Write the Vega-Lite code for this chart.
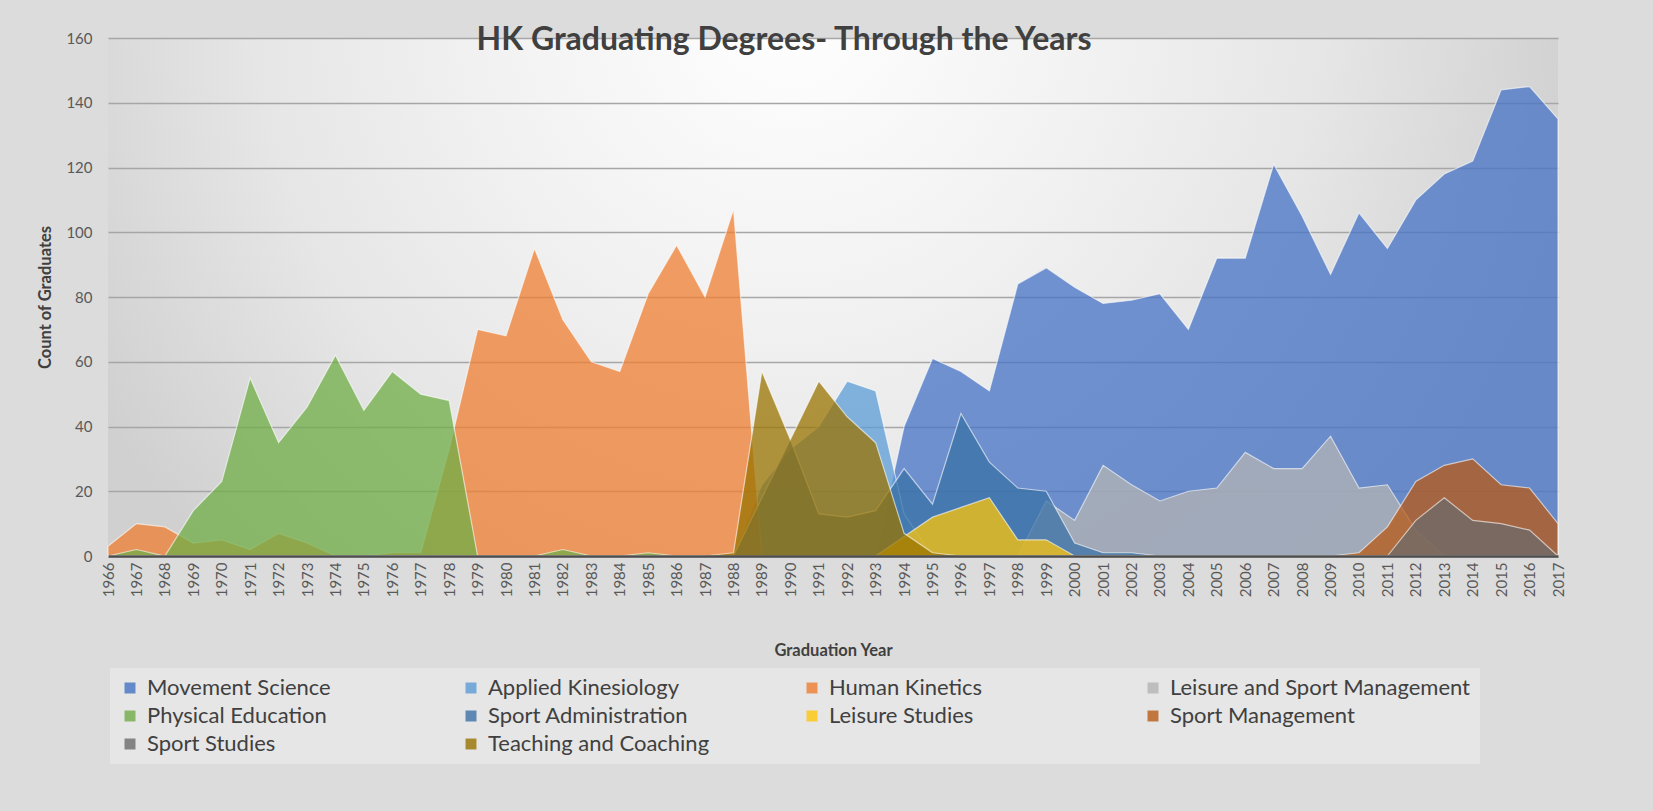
{
  "$schema": "https://vega.github.io/schema/vega-lite/v6.json",
  "width": 1450,
  "height": 518,
  "autosize": {"type": "none"},
  "padding": {"left": 108, "top": 38, "right": 95, "bottom": 255},
  "background": "#DCDCDC",
  "title": {
    "text": "HK Graduating Degrees- Through the Years",
    "font": "Lato",
    "fontSize": 32,
    "fontWeight": "bold",
    "color": "#404040",
    "anchor": "middle",
    "frame": "group",
    "baseline": "alphabetic",
    "offset": 0,
    "dx": -49,
    "dy": 51
  },
  "config": {
    "font": "Lato",
    "view": {
      "stroke": null,
      "fill": {
        "gradient": "radial",
        "x1": 0.47, "y1": 0.3, "r1": 0,
        "x2": 0.47, "y2": 0.3, "r2": 0.55,
        "stops": [
          {"offset": 0, "color": "#FFFFFF"},
          {"offset": 0.4, "color": "#F1F1F1"},
          {"offset": 0.67, "color": "#E6E6E6"},
          {"offset": 0.85, "color": "#DADADA"},
          {"offset": 1, "color": "#D0D0D0"}
        ]
      }
    }
  },
  "data": {
    "values": [
      {"year":1966,"degree":"Movement Science","count":0},{"year":1967,"degree":"Movement Science","count":0},{"year":1968,"degree":"Movement Science","count":0},{"year":1969,"degree":"Movement Science","count":0},{"year":1970,"degree":"Movement Science","count":0},{"year":1971,"degree":"Movement Science","count":0},{"year":1972,"degree":"Movement Science","count":0},{"year":1973,"degree":"Movement Science","count":0},{"year":1974,"degree":"Movement Science","count":0},{"year":1975,"degree":"Movement Science","count":0},{"year":1976,"degree":"Movement Science","count":0},{"year":1977,"degree":"Movement Science","count":0},{"year":1978,"degree":"Movement Science","count":0},{"year":1979,"degree":"Movement Science","count":0},{"year":1980,"degree":"Movement Science","count":0},{"year":1981,"degree":"Movement Science","count":0},{"year":1982,"degree":"Movement Science","count":0},{"year":1983,"degree":"Movement Science","count":0},{"year":1984,"degree":"Movement Science","count":0},{"year":1985,"degree":"Movement Science","count":0},{"year":1986,"degree":"Movement Science","count":0},{"year":1987,"degree":"Movement Science","count":0},{"year":1988,"degree":"Movement Science","count":0},{"year":1989,"degree":"Movement Science","count":0},{"year":1990,"degree":"Movement Science","count":0},{"year":1991,"degree":"Movement Science","count":0},{"year":1992,"degree":"Movement Science","count":0},{"year":1993,"degree":"Movement Science","count":0},{"year":1994,"degree":"Movement Science","count":40},{"year":1995,"degree":"Movement Science","count":61},{"year":1996,"degree":"Movement Science","count":57},{"year":1997,"degree":"Movement Science","count":51},{"year":1998,"degree":"Movement Science","count":84},{"year":1999,"degree":"Movement Science","count":89},{"year":2000,"degree":"Movement Science","count":83},{"year":2001,"degree":"Movement Science","count":78},{"year":2002,"degree":"Movement Science","count":79},{"year":2003,"degree":"Movement Science","count":81},{"year":2004,"degree":"Movement Science","count":70},{"year":2005,"degree":"Movement Science","count":92},{"year":2006,"degree":"Movement Science","count":92},{"year":2007,"degree":"Movement Science","count":121},{"year":2008,"degree":"Movement Science","count":105},{"year":2009,"degree":"Movement Science","count":87},{"year":2010,"degree":"Movement Science","count":106},{"year":2011,"degree":"Movement Science","count":95},{"year":2012,"degree":"Movement Science","count":110},{"year":2013,"degree":"Movement Science","count":118},{"year":2014,"degree":"Movement Science","count":122},{"year":2015,"degree":"Movement Science","count":144},{"year":2016,"degree":"Movement Science","count":145},{"year":2017,"degree":"Movement Science","count":135},
      {"year":1966,"degree":"Applied Kinesiology","count":0},{"year":1967,"degree":"Applied Kinesiology","count":0},{"year":1968,"degree":"Applied Kinesiology","count":0},{"year":1969,"degree":"Applied Kinesiology","count":0},{"year":1970,"degree":"Applied Kinesiology","count":0},{"year":1971,"degree":"Applied Kinesiology","count":0},{"year":1972,"degree":"Applied Kinesiology","count":0},{"year":1973,"degree":"Applied Kinesiology","count":0},{"year":1974,"degree":"Applied Kinesiology","count":0},{"year":1975,"degree":"Applied Kinesiology","count":0},{"year":1976,"degree":"Applied Kinesiology","count":0},{"year":1977,"degree":"Applied Kinesiology","count":0},{"year":1978,"degree":"Applied Kinesiology","count":0},{"year":1979,"degree":"Applied Kinesiology","count":0},{"year":1980,"degree":"Applied Kinesiology","count":0},{"year":1981,"degree":"Applied Kinesiology","count":0},{"year":1982,"degree":"Applied Kinesiology","count":0},{"year":1983,"degree":"Applied Kinesiology","count":0},{"year":1984,"degree":"Applied Kinesiology","count":0},{"year":1985,"degree":"Applied Kinesiology","count":0},{"year":1986,"degree":"Applied Kinesiology","count":0},{"year":1987,"degree":"Applied Kinesiology","count":0},{"year":1988,"degree":"Applied Kinesiology","count":0},{"year":1989,"degree":"Applied Kinesiology","count":22},{"year":1990,"degree":"Applied Kinesiology","count":33},{"year":1991,"degree":"Applied Kinesiology","count":40},{"year":1992,"degree":"Applied Kinesiology","count":54},{"year":1993,"degree":"Applied Kinesiology","count":51},{"year":1994,"degree":"Applied Kinesiology","count":13},{"year":1995,"degree":"Applied Kinesiology","count":0},{"year":1996,"degree":"Applied Kinesiology","count":0},{"year":1997,"degree":"Applied Kinesiology","count":0},{"year":1998,"degree":"Applied Kinesiology","count":0},{"year":1999,"degree":"Applied Kinesiology","count":0},{"year":2000,"degree":"Applied Kinesiology","count":0},{"year":2001,"degree":"Applied Kinesiology","count":0},{"year":2002,"degree":"Applied Kinesiology","count":0},{"year":2003,"degree":"Applied Kinesiology","count":0},{"year":2004,"degree":"Applied Kinesiology","count":0},{"year":2005,"degree":"Applied Kinesiology","count":0},{"year":2006,"degree":"Applied Kinesiology","count":0},{"year":2007,"degree":"Applied Kinesiology","count":0},{"year":2008,"degree":"Applied Kinesiology","count":0},{"year":2009,"degree":"Applied Kinesiology","count":0},{"year":2010,"degree":"Applied Kinesiology","count":0},{"year":2011,"degree":"Applied Kinesiology","count":0},{"year":2012,"degree":"Applied Kinesiology","count":0},{"year":2013,"degree":"Applied Kinesiology","count":0},{"year":2014,"degree":"Applied Kinesiology","count":0},{"year":2015,"degree":"Applied Kinesiology","count":0},{"year":2016,"degree":"Applied Kinesiology","count":0},{"year":2017,"degree":"Applied Kinesiology","count":0},
      {"year":1966,"degree":"Human Kinetics","count":3},{"year":1967,"degree":"Human Kinetics","count":10},{"year":1968,"degree":"Human Kinetics","count":9},{"year":1969,"degree":"Human Kinetics","count":4},{"year":1970,"degree":"Human Kinetics","count":5},{"year":1971,"degree":"Human Kinetics","count":2},{"year":1972,"degree":"Human Kinetics","count":7},{"year":1973,"degree":"Human Kinetics","count":4},{"year":1974,"degree":"Human Kinetics","count":0},{"year":1975,"degree":"Human Kinetics","count":0},{"year":1976,"degree":"Human Kinetics","count":1},{"year":1977,"degree":"Human Kinetics","count":1},{"year":1978,"degree":"Human Kinetics","count":33},{"year":1979,"degree":"Human Kinetics","count":70},{"year":1980,"degree":"Human Kinetics","count":68},{"year":1981,"degree":"Human Kinetics","count":95},{"year":1982,"degree":"Human Kinetics","count":73},{"year":1983,"degree":"Human Kinetics","count":60},{"year":1984,"degree":"Human Kinetics","count":57},{"year":1985,"degree":"Human Kinetics","count":81},{"year":1986,"degree":"Human Kinetics","count":96},{"year":1987,"degree":"Human Kinetics","count":80},{"year":1988,"degree":"Human Kinetics","count":107},{"year":1989,"degree":"Human Kinetics","count":0},{"year":1990,"degree":"Human Kinetics","count":0},{"year":1991,"degree":"Human Kinetics","count":0},{"year":1992,"degree":"Human Kinetics","count":0},{"year":1993,"degree":"Human Kinetics","count":0},{"year":1994,"degree":"Human Kinetics","count":0},{"year":1995,"degree":"Human Kinetics","count":0},{"year":1996,"degree":"Human Kinetics","count":0},{"year":1997,"degree":"Human Kinetics","count":0},{"year":1998,"degree":"Human Kinetics","count":0},{"year":1999,"degree":"Human Kinetics","count":0},{"year":2000,"degree":"Human Kinetics","count":0},{"year":2001,"degree":"Human Kinetics","count":0},{"year":2002,"degree":"Human Kinetics","count":0},{"year":2003,"degree":"Human Kinetics","count":0},{"year":2004,"degree":"Human Kinetics","count":0},{"year":2005,"degree":"Human Kinetics","count":0},{"year":2006,"degree":"Human Kinetics","count":0},{"year":2007,"degree":"Human Kinetics","count":0},{"year":2008,"degree":"Human Kinetics","count":0},{"year":2009,"degree":"Human Kinetics","count":0},{"year":2010,"degree":"Human Kinetics","count":0},{"year":2011,"degree":"Human Kinetics","count":0},{"year":2012,"degree":"Human Kinetics","count":0},{"year":2013,"degree":"Human Kinetics","count":0},{"year":2014,"degree":"Human Kinetics","count":0},{"year":2015,"degree":"Human Kinetics","count":0},{"year":2016,"degree":"Human Kinetics","count":0},{"year":2017,"degree":"Human Kinetics","count":0},
      {"year":1966,"degree":"Leisure and Sport Management","count":0},{"year":1967,"degree":"Leisure and Sport Management","count":0},{"year":1968,"degree":"Leisure and Sport Management","count":0},{"year":1969,"degree":"Leisure and Sport Management","count":0},{"year":1970,"degree":"Leisure and Sport Management","count":0},{"year":1971,"degree":"Leisure and Sport Management","count":0},{"year":1972,"degree":"Leisure and Sport Management","count":0},{"year":1973,"degree":"Leisure and Sport Management","count":0},{"year":1974,"degree":"Leisure and Sport Management","count":0},{"year":1975,"degree":"Leisure and Sport Management","count":0},{"year":1976,"degree":"Leisure and Sport Management","count":0},{"year":1977,"degree":"Leisure and Sport Management","count":0},{"year":1978,"degree":"Leisure and Sport Management","count":0},{"year":1979,"degree":"Leisure and Sport Management","count":0},{"year":1980,"degree":"Leisure and Sport Management","count":0},{"year":1981,"degree":"Leisure and Sport Management","count":0},{"year":1982,"degree":"Leisure and Sport Management","count":0},{"year":1983,"degree":"Leisure and Sport Management","count":0},{"year":1984,"degree":"Leisure and Sport Management","count":0},{"year":1985,"degree":"Leisure and Sport Management","count":0},{"year":1986,"degree":"Leisure and Sport Management","count":0},{"year":1987,"degree":"Leisure and Sport Management","count":0},{"year":1988,"degree":"Leisure and Sport Management","count":0},{"year":1989,"degree":"Leisure and Sport Management","count":0},{"year":1990,"degree":"Leisure and Sport Management","count":0},{"year":1991,"degree":"Leisure and Sport Management","count":0},{"year":1992,"degree":"Leisure and Sport Management","count":0},{"year":1993,"degree":"Leisure and Sport Management","count":0},{"year":1994,"degree":"Leisure and Sport Management","count":0},{"year":1995,"degree":"Leisure and Sport Management","count":0},{"year":1996,"degree":"Leisure and Sport Management","count":0},{"year":1997,"degree":"Leisure and Sport Management","count":0},{"year":1998,"degree":"Leisure and Sport Management","count":0},{"year":1999,"degree":"Leisure and Sport Management","count":17},{"year":2000,"degree":"Leisure and Sport Management","count":11},{"year":2001,"degree":"Leisure and Sport Management","count":28},{"year":2002,"degree":"Leisure and Sport Management","count":22},{"year":2003,"degree":"Leisure and Sport Management","count":17},{"year":2004,"degree":"Leisure and Sport Management","count":20},{"year":2005,"degree":"Leisure and Sport Management","count":21},{"year":2006,"degree":"Leisure and Sport Management","count":32},{"year":2007,"degree":"Leisure and Sport Management","count":27},{"year":2008,"degree":"Leisure and Sport Management","count":27},{"year":2009,"degree":"Leisure and Sport Management","count":37},{"year":2010,"degree":"Leisure and Sport Management","count":21},{"year":2011,"degree":"Leisure and Sport Management","count":22},{"year":2012,"degree":"Leisure and Sport Management","count":8},{"year":2013,"degree":"Leisure and Sport Management","count":0},{"year":2014,"degree":"Leisure and Sport Management","count":0},{"year":2015,"degree":"Leisure and Sport Management","count":0},{"year":2016,"degree":"Leisure and Sport Management","count":0},{"year":2017,"degree":"Leisure and Sport Management","count":0},
      {"year":1966,"degree":"Physical Education","count":0},{"year":1967,"degree":"Physical Education","count":2},{"year":1968,"degree":"Physical Education","count":0},{"year":1969,"degree":"Physical Education","count":14},{"year":1970,"degree":"Physical Education","count":23},{"year":1971,"degree":"Physical Education","count":55},{"year":1972,"degree":"Physical Education","count":35},{"year":1973,"degree":"Physical Education","count":46},{"year":1974,"degree":"Physical Education","count":62},{"year":1975,"degree":"Physical Education","count":45},{"year":1976,"degree":"Physical Education","count":57},{"year":1977,"degree":"Physical Education","count":50},{"year":1978,"degree":"Physical Education","count":48},{"year":1979,"degree":"Physical Education","count":0},{"year":1980,"degree":"Physical Education","count":0},{"year":1981,"degree":"Physical Education","count":0},{"year":1982,"degree":"Physical Education","count":2},{"year":1983,"degree":"Physical Education","count":0},{"year":1984,"degree":"Physical Education","count":0},{"year":1985,"degree":"Physical Education","count":1},{"year":1986,"degree":"Physical Education","count":0},{"year":1987,"degree":"Physical Education","count":0},{"year":1988,"degree":"Physical Education","count":0},{"year":1989,"degree":"Physical Education","count":0},{"year":1990,"degree":"Physical Education","count":0},{"year":1991,"degree":"Physical Education","count":0},{"year":1992,"degree":"Physical Education","count":0},{"year":1993,"degree":"Physical Education","count":0},{"year":1994,"degree":"Physical Education","count":0},{"year":1995,"degree":"Physical Education","count":0},{"year":1996,"degree":"Physical Education","count":0},{"year":1997,"degree":"Physical Education","count":0},{"year":1998,"degree":"Physical Education","count":0},{"year":1999,"degree":"Physical Education","count":0},{"year":2000,"degree":"Physical Education","count":0},{"year":2001,"degree":"Physical Education","count":0},{"year":2002,"degree":"Physical Education","count":0},{"year":2003,"degree":"Physical Education","count":0},{"year":2004,"degree":"Physical Education","count":0},{"year":2005,"degree":"Physical Education","count":0},{"year":2006,"degree":"Physical Education","count":0},{"year":2007,"degree":"Physical Education","count":0},{"year":2008,"degree":"Physical Education","count":0},{"year":2009,"degree":"Physical Education","count":0},{"year":2010,"degree":"Physical Education","count":0},{"year":2011,"degree":"Physical Education","count":0},{"year":2012,"degree":"Physical Education","count":0},{"year":2013,"degree":"Physical Education","count":0},{"year":2014,"degree":"Physical Education","count":0},{"year":2015,"degree":"Physical Education","count":0},{"year":2016,"degree":"Physical Education","count":0},{"year":2017,"degree":"Physical Education","count":0},
      {"year":1966,"degree":"Sport Administration","count":0},{"year":1967,"degree":"Sport Administration","count":0},{"year":1968,"degree":"Sport Administration","count":0},{"year":1969,"degree":"Sport Administration","count":0},{"year":1970,"degree":"Sport Administration","count":0},{"year":1971,"degree":"Sport Administration","count":0},{"year":1972,"degree":"Sport Administration","count":0},{"year":1973,"degree":"Sport Administration","count":0},{"year":1974,"degree":"Sport Administration","count":0},{"year":1975,"degree":"Sport Administration","count":0},{"year":1976,"degree":"Sport Administration","count":0},{"year":1977,"degree":"Sport Administration","count":0},{"year":1978,"degree":"Sport Administration","count":0},{"year":1979,"degree":"Sport Administration","count":0},{"year":1980,"degree":"Sport Administration","count":0},{"year":1981,"degree":"Sport Administration","count":0},{"year":1982,"degree":"Sport Administration","count":0},{"year":1983,"degree":"Sport Administration","count":0},{"year":1984,"degree":"Sport Administration","count":0},{"year":1985,"degree":"Sport Administration","count":0},{"year":1986,"degree":"Sport Administration","count":0},{"year":1987,"degree":"Sport Administration","count":0},{"year":1988,"degree":"Sport Administration","count":0},{"year":1989,"degree":"Sport Administration","count":18},{"year":1990,"degree":"Sport Administration","count":36},{"year":1991,"degree":"Sport Administration","count":13},{"year":1992,"degree":"Sport Administration","count":12},{"year":1993,"degree":"Sport Administration","count":14},{"year":1994,"degree":"Sport Administration","count":27},{"year":1995,"degree":"Sport Administration","count":16},{"year":1996,"degree":"Sport Administration","count":44},{"year":1997,"degree":"Sport Administration","count":29},{"year":1998,"degree":"Sport Administration","count":21},{"year":1999,"degree":"Sport Administration","count":20},{"year":2000,"degree":"Sport Administration","count":4},{"year":2001,"degree":"Sport Administration","count":1},{"year":2002,"degree":"Sport Administration","count":1},{"year":2003,"degree":"Sport Administration","count":0},{"year":2004,"degree":"Sport Administration","count":0},{"year":2005,"degree":"Sport Administration","count":0},{"year":2006,"degree":"Sport Administration","count":0},{"year":2007,"degree":"Sport Administration","count":0},{"year":2008,"degree":"Sport Administration","count":0},{"year":2009,"degree":"Sport Administration","count":0},{"year":2010,"degree":"Sport Administration","count":0},{"year":2011,"degree":"Sport Administration","count":0},{"year":2012,"degree":"Sport Administration","count":0},{"year":2013,"degree":"Sport Administration","count":0},{"year":2014,"degree":"Sport Administration","count":0},{"year":2015,"degree":"Sport Administration","count":0},{"year":2016,"degree":"Sport Administration","count":0},{"year":2017,"degree":"Sport Administration","count":0},
      {"year":1966,"degree":"Leisure Studies","count":0},{"year":1967,"degree":"Leisure Studies","count":0},{"year":1968,"degree":"Leisure Studies","count":0},{"year":1969,"degree":"Leisure Studies","count":0},{"year":1970,"degree":"Leisure Studies","count":0},{"year":1971,"degree":"Leisure Studies","count":0},{"year":1972,"degree":"Leisure Studies","count":0},{"year":1973,"degree":"Leisure Studies","count":0},{"year":1974,"degree":"Leisure Studies","count":0},{"year":1975,"degree":"Leisure Studies","count":0},{"year":1976,"degree":"Leisure Studies","count":0},{"year":1977,"degree":"Leisure Studies","count":0},{"year":1978,"degree":"Leisure Studies","count":0},{"year":1979,"degree":"Leisure Studies","count":0},{"year":1980,"degree":"Leisure Studies","count":0},{"year":1981,"degree":"Leisure Studies","count":0},{"year":1982,"degree":"Leisure Studies","count":0},{"year":1983,"degree":"Leisure Studies","count":0},{"year":1984,"degree":"Leisure Studies","count":0},{"year":1985,"degree":"Leisure Studies","count":0},{"year":1986,"degree":"Leisure Studies","count":0},{"year":1987,"degree":"Leisure Studies","count":0},{"year":1988,"degree":"Leisure Studies","count":0},{"year":1989,"degree":"Leisure Studies","count":0},{"year":1990,"degree":"Leisure Studies","count":0},{"year":1991,"degree":"Leisure Studies","count":0},{"year":1992,"degree":"Leisure Studies","count":0},{"year":1993,"degree":"Leisure Studies","count":0},{"year":1994,"degree":"Leisure Studies","count":6},{"year":1995,"degree":"Leisure Studies","count":12},{"year":1996,"degree":"Leisure Studies","count":15},{"year":1997,"degree":"Leisure Studies","count":18},{"year":1998,"degree":"Leisure Studies","count":5},{"year":1999,"degree":"Leisure Studies","count":5},{"year":2000,"degree":"Leisure Studies","count":0},{"year":2001,"degree":"Leisure Studies","count":0},{"year":2002,"degree":"Leisure Studies","count":0},{"year":2003,"degree":"Leisure Studies","count":0},{"year":2004,"degree":"Leisure Studies","count":0},{"year":2005,"degree":"Leisure Studies","count":0},{"year":2006,"degree":"Leisure Studies","count":0},{"year":2007,"degree":"Leisure Studies","count":0},{"year":2008,"degree":"Leisure Studies","count":0},{"year":2009,"degree":"Leisure Studies","count":0},{"year":2010,"degree":"Leisure Studies","count":0},{"year":2011,"degree":"Leisure Studies","count":0},{"year":2012,"degree":"Leisure Studies","count":0},{"year":2013,"degree":"Leisure Studies","count":0},{"year":2014,"degree":"Leisure Studies","count":0},{"year":2015,"degree":"Leisure Studies","count":0},{"year":2016,"degree":"Leisure Studies","count":0},{"year":2017,"degree":"Leisure Studies","count":0},
      {"year":1966,"degree":"Sport Management","count":0},{"year":1967,"degree":"Sport Management","count":0},{"year":1968,"degree":"Sport Management","count":0},{"year":1969,"degree":"Sport Management","count":0},{"year":1970,"degree":"Sport Management","count":0},{"year":1971,"degree":"Sport Management","count":0},{"year":1972,"degree":"Sport Management","count":0},{"year":1973,"degree":"Sport Management","count":0},{"year":1974,"degree":"Sport Management","count":0},{"year":1975,"degree":"Sport Management","count":0},{"year":1976,"degree":"Sport Management","count":0},{"year":1977,"degree":"Sport Management","count":0},{"year":1978,"degree":"Sport Management","count":0},{"year":1979,"degree":"Sport Management","count":0},{"year":1980,"degree":"Sport Management","count":0},{"year":1981,"degree":"Sport Management","count":0},{"year":1982,"degree":"Sport Management","count":0},{"year":1983,"degree":"Sport Management","count":0},{"year":1984,"degree":"Sport Management","count":0},{"year":1985,"degree":"Sport Management","count":0},{"year":1986,"degree":"Sport Management","count":0},{"year":1987,"degree":"Sport Management","count":0},{"year":1988,"degree":"Sport Management","count":0},{"year":1989,"degree":"Sport Management","count":0},{"year":1990,"degree":"Sport Management","count":0},{"year":1991,"degree":"Sport Management","count":0},{"year":1992,"degree":"Sport Management","count":0},{"year":1993,"degree":"Sport Management","count":0},{"year":1994,"degree":"Sport Management","count":0},{"year":1995,"degree":"Sport Management","count":0},{"year":1996,"degree":"Sport Management","count":0},{"year":1997,"degree":"Sport Management","count":0},{"year":1998,"degree":"Sport Management","count":0},{"year":1999,"degree":"Sport Management","count":0},{"year":2000,"degree":"Sport Management","count":0},{"year":2001,"degree":"Sport Management","count":0},{"year":2002,"degree":"Sport Management","count":0},{"year":2003,"degree":"Sport Management","count":0},{"year":2004,"degree":"Sport Management","count":0},{"year":2005,"degree":"Sport Management","count":0},{"year":2006,"degree":"Sport Management","count":0},{"year":2007,"degree":"Sport Management","count":0},{"year":2008,"degree":"Sport Management","count":0},{"year":2009,"degree":"Sport Management","count":0},{"year":2010,"degree":"Sport Management","count":1},{"year":2011,"degree":"Sport Management","count":9},{"year":2012,"degree":"Sport Management","count":23},{"year":2013,"degree":"Sport Management","count":28},{"year":2014,"degree":"Sport Management","count":30},{"year":2015,"degree":"Sport Management","count":22},{"year":2016,"degree":"Sport Management","count":21},{"year":2017,"degree":"Sport Management","count":10},
      {"year":1966,"degree":"Sport Studies","count":0},{"year":1967,"degree":"Sport Studies","count":0},{"year":1968,"degree":"Sport Studies","count":0},{"year":1969,"degree":"Sport Studies","count":0},{"year":1970,"degree":"Sport Studies","count":0},{"year":1971,"degree":"Sport Studies","count":0},{"year":1972,"degree":"Sport Studies","count":0},{"year":1973,"degree":"Sport Studies","count":0},{"year":1974,"degree":"Sport Studies","count":0},{"year":1975,"degree":"Sport Studies","count":0},{"year":1976,"degree":"Sport Studies","count":0},{"year":1977,"degree":"Sport Studies","count":0},{"year":1978,"degree":"Sport Studies","count":0},{"year":1979,"degree":"Sport Studies","count":0},{"year":1980,"degree":"Sport Studies","count":0},{"year":1981,"degree":"Sport Studies","count":0},{"year":1982,"degree":"Sport Studies","count":0},{"year":1983,"degree":"Sport Studies","count":0},{"year":1984,"degree":"Sport Studies","count":0},{"year":1985,"degree":"Sport Studies","count":0},{"year":1986,"degree":"Sport Studies","count":0},{"year":1987,"degree":"Sport Studies","count":0},{"year":1988,"degree":"Sport Studies","count":0},{"year":1989,"degree":"Sport Studies","count":0},{"year":1990,"degree":"Sport Studies","count":0},{"year":1991,"degree":"Sport Studies","count":0},{"year":1992,"degree":"Sport Studies","count":0},{"year":1993,"degree":"Sport Studies","count":0},{"year":1994,"degree":"Sport Studies","count":0},{"year":1995,"degree":"Sport Studies","count":0},{"year":1996,"degree":"Sport Studies","count":0},{"year":1997,"degree":"Sport Studies","count":0},{"year":1998,"degree":"Sport Studies","count":0},{"year":1999,"degree":"Sport Studies","count":0},{"year":2000,"degree":"Sport Studies","count":0},{"year":2001,"degree":"Sport Studies","count":0},{"year":2002,"degree":"Sport Studies","count":0},{"year":2003,"degree":"Sport Studies","count":0},{"year":2004,"degree":"Sport Studies","count":0},{"year":2005,"degree":"Sport Studies","count":0},{"year":2006,"degree":"Sport Studies","count":0},{"year":2007,"degree":"Sport Studies","count":0},{"year":2008,"degree":"Sport Studies","count":0},{"year":2009,"degree":"Sport Studies","count":0},{"year":2010,"degree":"Sport Studies","count":0},{"year":2011,"degree":"Sport Studies","count":0},{"year":2012,"degree":"Sport Studies","count":11},{"year":2013,"degree":"Sport Studies","count":18},{"year":2014,"degree":"Sport Studies","count":11},{"year":2015,"degree":"Sport Studies","count":10},{"year":2016,"degree":"Sport Studies","count":8},{"year":2017,"degree":"Sport Studies","count":0},
      {"year":1966,"degree":"Teaching and Coaching","count":0},{"year":1967,"degree":"Teaching and Coaching","count":0},{"year":1968,"degree":"Teaching and Coaching","count":0},{"year":1969,"degree":"Teaching and Coaching","count":0},{"year":1970,"degree":"Teaching and Coaching","count":0},{"year":1971,"degree":"Teaching and Coaching","count":0},{"year":1972,"degree":"Teaching and Coaching","count":0},{"year":1973,"degree":"Teaching and Coaching","count":0},{"year":1974,"degree":"Teaching and Coaching","count":0},{"year":1975,"degree":"Teaching and Coaching","count":0},{"year":1976,"degree":"Teaching and Coaching","count":0},{"year":1977,"degree":"Teaching and Coaching","count":0},{"year":1978,"degree":"Teaching and Coaching","count":0},{"year":1979,"degree":"Teaching and Coaching","count":0},{"year":1980,"degree":"Teaching and Coaching","count":0},{"year":1981,"degree":"Teaching and Coaching","count":0},{"year":1982,"degree":"Teaching and Coaching","count":0},{"year":1983,"degree":"Teaching and Coaching","count":0},{"year":1984,"degree":"Teaching and Coaching","count":0},{"year":1985,"degree":"Teaching and Coaching","count":0},{"year":1986,"degree":"Teaching and Coaching","count":0},{"year":1987,"degree":"Teaching and Coaching","count":0},{"year":1988,"degree":"Teaching and Coaching","count":1},{"year":1989,"degree":"Teaching and Coaching","count":57},{"year":1990,"degree":"Teaching and Coaching","count":36},{"year":1991,"degree":"Teaching and Coaching","count":54},{"year":1992,"degree":"Teaching and Coaching","count":43},{"year":1993,"degree":"Teaching and Coaching","count":35},{"year":1994,"degree":"Teaching and Coaching","count":7},{"year":1995,"degree":"Teaching and Coaching","count":1},{"year":1996,"degree":"Teaching and Coaching","count":0},{"year":1997,"degree":"Teaching and Coaching","count":0},{"year":1998,"degree":"Teaching and Coaching","count":0},{"year":1999,"degree":"Teaching and Coaching","count":0},{"year":2000,"degree":"Teaching and Coaching","count":0},{"year":2001,"degree":"Teaching and Coaching","count":0},{"year":2002,"degree":"Teaching and Coaching","count":0},{"year":2003,"degree":"Teaching and Coaching","count":0},{"year":2004,"degree":"Teaching and Coaching","count":0},{"year":2005,"degree":"Teaching and Coaching","count":0},{"year":2006,"degree":"Teaching and Coaching","count":0},{"year":2007,"degree":"Teaching and Coaching","count":0},{"year":2008,"degree":"Teaching and Coaching","count":0},{"year":2009,"degree":"Teaching and Coaching","count":0},{"year":2010,"degree":"Teaching and Coaching","count":0},{"year":2011,"degree":"Teaching and Coaching","count":0},{"year":2012,"degree":"Teaching and Coaching","count":0},{"year":2013,"degree":"Teaching and Coaching","count":0},{"year":2014,"degree":"Teaching and Coaching","count":0},{"year":2015,"degree":"Teaching and Coaching","count":0},{"year":2016,"degree":"Teaching and Coaching","count":0},{"year":2017,"degree":"Teaching and Coaching","count":0}
    ]
  },
  "mark": {
    "type": "area",
    "fillOpacity": 0.75,
    "stroke": "#FFFFFF",
    "strokeWidth": 1.2,
    "strokeOpacity": 0.6
  },
  "encoding": {
    "x": {
      "field": "year",
      "type": "ordinal",
      "scale": {"type": "point", "padding": 0},
      "axis": {
        "title": "Graduation Year",
        "titleFontSize": 16.5,
        "titleFontWeight": "bold",
        "titleColor": "#404040",
        "titlePadding": 46,
        "labelAngle": 270,
        "labelFontSize": 15,
        "labelColor": "#595959",
        "labelPadding": 6,
        "labelOverlap": false,
        "ticks": false,
        "grid": false,
        "domainColor": "#4D4D4D",
        "domainWidth": 2.5,
        "zindex": 1
      }
    },
    "y": {
      "field": "count",
      "type": "quantitative",
      "stack": null,
      "scale": {"domain": [0, 160], "nice": false},
      "axis": {
        "title": "Count of Graduates",
        "titleFontSize": 16.5,
        "titleFontWeight": "bold",
        "titleColor": "#404040",
        "titlePadding": 12,
        "values": [0, 20, 40, 60, 80, 100, 120, 140, 160],
        "labelFontSize": 15,
        "labelColor": "#595959",
        "labelPadding": 16,
        "ticks": false,
        "domain": false,
        "gridColor": "#A6A6A6",
        "gridWidth": 1.5
      }
    },
    "color": {
      "field": "degree",
      "type": "nominal",
      "scale": {
        "domain": ["Movement Science", "Applied Kinesiology", "Human Kinetics", "Leisure and Sport Management", "Physical Education", "Sport Administration", "Leisure Studies", "Sport Management", "Sport Studies", "Teaching and Coaching"],
        "range": ["#4472C4", "#5B9BD5", "#ED7D31", "#B4B4B4", "#70AD47", "#3A71A6", "#FFC60A", "#B85A16", "#6B6B6B", "#997300"]
      },
      "legend": {
        "title": null,
        "orient": "none",
        "legendX": 2,
        "legendY": 630,
        "direction": "horizontal",
        "columns": 4,
        "gridAlign": "all",
        "columnPadding": 12,
        "rowPadding": 6,
        "symbolType": "square",
        "symbolSize": 120,
        "symbolStrokeWidth": 0,
        "symbolOpacity": 0.8,
        "labelFontSize": 22,
        "labelColor": "#404040",
        "labelOffset": 6,
        "labelLimit": 400,
        "fillColor": "#E6E6E6",
        "padding": 9
      }
    }
  }
}
